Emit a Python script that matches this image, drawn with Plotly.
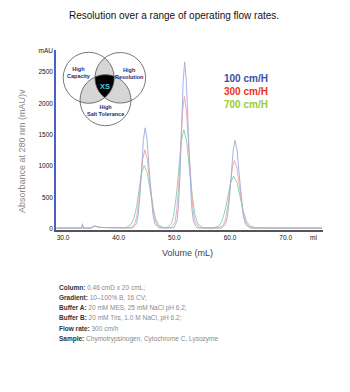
import numpy as np
import plotly.graph_objects as go

# ---------------- data ----------------
title_text = "Resolution over a range of operating flow rates."
series_names = ["100 cm/H", "300 cm/H", "700 cm/H"]

x_100 = [28.8, 30.0, 33.35, 33.5, 33.65, 35.0, 35.6, 36.0, 36.5, 38.0, 40.0, 41.5,
         42.58, 43.2, 43.51, 43.82, 44.13, 44.44, 44.75, 45.1, 45.45, 45.8, 46.15, 46.5, 47.2,
         48.0, 49.0,
         49.93, 50.48, 50.75, 51.03, 51.3, 51.58, 51.85, 52.16, 52.47, 52.78, 53.09, 53.4, 54.02,
         55.0, 56.0, 57.5,
         58.52, 59.2, 59.54, 59.88, 60.22, 60.56, 60.9, 61.28, 61.65, 62.03, 62.4, 62.78, 63.53,
         65.0, 65.8, 66.5, 68.0, 72.0, 76.5]
y_100 = [10, 10, 10, 80, 10, 12, 45, 40, 22, 18, 15, 14,
         13, 80, 226, 530, 981, 1421, 1610, 1421, 981, 530, 226, 80, 13,
         14, 14,
         15, 127, 368, 871, 1619, 2347, 2660, 2347, 1619, 871, 368, 127, 15,
         12, 10, 10,
         13, 72, 199, 465, 860, 1245, 1410, 1245, 860, 465, 199, 72, 13,
         10, 18, 12, 10, 10, 10]

x_300 = [28.8, 30.0, 33.35, 33.5, 33.65, 35.0, 35.6, 36.0, 36.5, 38.0, 40.0, 41.0,
         42.08, 42.83, 43.2, 43.58, 43.95, 44.33, 44.7, 45.13, 45.55, 45.98, 46.4, 46.83, 47.68,
         48.5,
         49.42, 50.1, 50.44, 50.78, 51.12, 51.46, 51.8, 52.19, 52.58, 52.97, 53.36, 53.75, 54.53,
         55.5, 56.5, 57.2,
         58.0, 58.8, 59.2, 59.6, 60.0, 60.4, 60.8, 61.25, 61.7, 62.15, 62.6, 63.05, 63.95,
         65.0, 65.8, 66.5, 68.0, 72.0, 76.5]
y_300 = [10, 10, 10, 45, 10, 12, 40, 36, 22, 18, 15, 14,
         13, 65, 179, 416, 769, 1113, 1260, 1113, 769, 416, 179, 65, 13,
         15,
         14, 102, 294, 693, 1285, 1862, 2110, 1862, 1285, 693, 294, 102, 14,
         12, 10, 10,
         12, 58, 156, 361, 666, 963, 1090, 963, 666, 361, 156, 58, 12,
         10, 16, 12, 10, 10, 10]

x_700 = [28.8, 30.0, 33.35, 33.5, 33.65, 35.0, 35.6, 36.0, 36.5, 38.0, 40.0,
         41.28, 42.23, 42.7, 43.18, 43.65, 44.13, 44.6, 45.13, 45.65, 46.18, 46.7, 47.23, 48.28,
         48.55, 49.45, 49.9, 50.35, 50.8, 51.25, 51.7, 52.2, 52.7, 53.2, 53.7, 54.2, 55.2,
         56.0,
         56.98, 58.03, 58.55, 59.08, 59.6, 60.13, 60.65, 61.23, 61.8, 62.38, 62.95, 63.53, 64.68,
         65.8, 66.5, 68.0, 72.0, 76.5]
y_700 = [10, 10, 10, 40, 10, 12, 38, 34, 22, 18, 16,
         14, 70, 160, 335, 617, 892, 1010, 892, 617, 335, 145, 54, 12,
         13, 79, 222, 520, 963, 1395, 1580, 1395, 963, 520, 222, 79, 13,
         11,
         12, 47, 122, 280, 514, 742, 840, 742, 514, 280, 122, 47, 12,
         15, 12, 10, 10, 10]

x_tick_vals = [30, 40, 50, 60, 70, 75]
x_tick_text = ["30.0", "40.0", "50.0", "60.0", "70.0", "ml"]
y_tick_vals = [0, 500, 1000, 1500, 2000, 2500, 2840]
y_tick_text = ["0", "500", "1000", "1500", "2000", "2500", "mAU"]

venn_labels = ["High<br>Capacity", "High<br>Resolution", "High<br>Salt Tolerance"]
venn_center_text = "XS"

footer_lines = [
    ("Column:", " 0.46 cmD x 20 cmL;"),
    ("Gradient:", " 10–100% B, 16 CV;"),
    ("Buffer A:", " 20 mM MES, 25 mM NaCl pH 6.2;"),
    ("Buffer B:", " 20 mM Tris, 1.0 M NaCl, pH 6.2;"),
    ("Flow rate:", " 300 cm/h"),
    ("Sample:", " Chymotrypsinogen, Cytochrome C, Lysozyme"),
]

# ---------------- styling / layout ----------------
W, H = 350, 392
ML, MR, MT, MB = 56, 27, 50, 162
PW, PH = W - ML - MR, H - MT - MB

def px(xp):
    return (xp - ML) / PW

def py(yp):
    return (H - MB - yp) / PH

line_colors = ["#9eaae0", "#f3a2a2", "#7fd2a8"]
text_colors = ["#3b4fa6", "#ee3124", "#9acd32"]
FONT = "Liberation Sans, Arial, sans-serif"

fig = go.Figure()
for xs, ys, c, n in [(x_700, y_700, line_colors[2], series_names[2]),
                     (x_300, y_300, line_colors[1], series_names[1]),
                     (x_100, y_100, line_colors[0], series_names[0])]:
    fig.add_trace(go.Scatter(x=xs, y=ys, mode="lines", name=n,
                             line=dict(color=c, width=0.9), hoverinfo="skip"))

# invisible pixel-coordinate overlay axes for the Venn decoration
fig.add_trace(go.Scatter(x=[ML], y=[H - MB], xaxis="x2", yaxis="y2",
                         mode="markers", marker=dict(opacity=0), hoverinfo="skip"))

fig.update_layout(
    width=W, height=H,
    margin=dict(l=ML, r=MR, t=MT, b=MB),
    paper_bgcolor="white", plot_bgcolor="white",
    showlegend=False,
    font=dict(family=FONT),
    xaxis=dict(range=[28.74, 76.7], showgrid=False, zeroline=False,
               showline=True, linecolor="#555555", linewidth=1.5,
               tickvals=x_tick_vals, ticktext=x_tick_text, ticks="",
               tickfont=dict(size=6.5, color="#111111", family=FONT)),
    yaxis=dict(range=[-20, 2850], showgrid=False, zeroline=False,
               showline=True, linecolor="#4a60c4", linewidth=1.5,
               tickvals=y_tick_vals, ticktext=y_tick_text, ticks="",
               tickfont=dict(size=6.5, color="#111111", family=FONT)),
    xaxis2=dict(range=[ML, W - MR], overlaying="x", visible=False, anchor="y2"),
    yaxis2=dict(range=[H - MB, MT], overlaying="y", visible=False, anchor="x2"),
)

# Venn geometry (decoration, pixel units)
circles = [(88.7, 77.8, 25.5), (120.3, 77.8, 25.3), (105.5, 100.2, 25.5)]

def inside(p, c):
    return (p[0] - c[0]) ** 2 + (p[1] - c[1]) ** 2 <= c[2] ** 2 + 1e-6

def region(idx):
    pts = []
    t = np.linspace(0, 2 * np.pi, 721)
    for i in idx:
        cx, cy, r = circles[i]
        for a in t:
            p = (cx + r * np.cos(a), cy + r * np.sin(a))
            if all(inside(p, circles[j]) for j in idx if j != i):
                pts.append(p)
    pts = np.array(pts)
    m = pts.mean(axis=0)
    ang = np.arctan2(pts[:, 1] - m[1], pts[:, 0] - m[0])
    pts = pts[np.argsort(ang)]
    return "M " + " L ".join(f"{a:.2f},{b:.2f}" for a, b in pts) + " Z"

for pair in [(0, 1), (0, 2), (1, 2)]:
    fig.add_shape(type="path", path=region(pair), xref="x2", yref="y2",
                  fillcolor="#d6d6d6", line=dict(width=0), layer="above")
fig.add_shape(type="path", path=region((0, 1, 2)), xref="x2", yref="y2",
              fillcolor="#000000", line=dict(width=0), layer="above")
for cx, cy, r in circles:
    fig.add_shape(type="circle", xref="x2", yref="y2",
                  x0=cx - r, x1=cx + r, y0=cy - r, y1=cy + r,
                  line=dict(color="#555555", width=0.8), layer="above")

venn_pos = [(78.5, 72.5), (129.5, 73.5), (105, 110.5)]
for (vx, vy), t in zip(venn_pos, venn_labels):
    fig.add_annotation(x=px(vx), y=py(vy), xref="paper", yref="paper", text=f"<b>{t}</b>",
                       showarrow=False, font=dict(size=5.5, color="#24286e", family=FONT),
                       xanchor="center", yanchor="middle")
fig.add_annotation(x=px(104.5), y=py(86.5), xref="paper", yref="paper",
                   text=f"<b>{venn_center_text}</b>", showarrow=False,
                   font=dict(size=7.5, color="#4fc6f2", family=FONT),
                   xanchor="center", yanchor="middle")

# flow-rate legend text
for i, (n, c) in enumerate(zip(series_names, text_colors)):
    fig.add_annotation(x=px(222), y=py(78.5 + 13 * i), xref="paper", yref="paper",
                       text=f"<b>{n}</b>", showarrow=False, xanchor="left", yanchor="middle",
                       font=dict(size=10, color=c, family=FONT))

# titles
fig.add_annotation(x=px(174), y=py(15.5), xref="paper", yref="paper", text=title_text,
                   showarrow=False, xanchor="center", yanchor="middle",
                   font=dict(size=10, color="#111111", family=FONT))
fig.add_annotation(x=px(22), y=py(151), xref="paper", yref="paper",
                   text="Absorbance at 280 nm (mAU)v", textangle=-90,
                   showarrow=False, xanchor="center", yanchor="middle",
                   font=dict(size=9, color="#888888", family=FONT))
fig.add_annotation(x=px(187), y=py(252.5), xref="paper", yref="paper", text="Volume (mL)",
                   showarrow=False, xanchor="center", yanchor="middle",
                   font=dict(size=9, color="#444444", family=FONT))

# footer
for i, (lab, val) in enumerate(footer_lines):
    fig.add_annotation(x=px(57), y=py(287 + 10.4 * i), xref="paper", yref="paper",
                       text=f"<b><span style='color:#333333'>{lab}</span></b><span style='color:#8a8a8a'>{val}</span>",
                       showarrow=False, xanchor="left", yanchor="middle",
                       font=dict(size=6.5, family=FONT))

fig.write_html("out.html")
